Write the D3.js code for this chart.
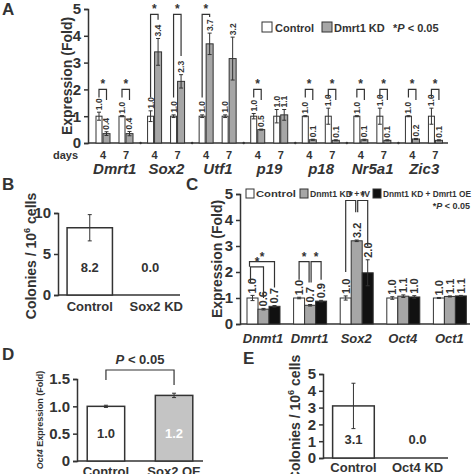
<!DOCTYPE html>
<html><head><meta charset="utf-8">
<script src="https://cdn.jsdelivr.net/npm/d3@7"></script>
<style>body{margin:0;background:#fff}text{font-family:"Liberation Sans",Arial,sans-serif;font-weight:bold;fill:#333}</style>
</head><body><div id="chart"></div>
<script>
// Panel A
const genesA = ["Dmrt1", "Sox2", "Utf1", "p19", "p18", "Nr5a1", "Zic3"];
const daysA = ["4", "7"];
const ctrlA = [1.0, 1.0, 1.0, 1.0, 1.0, 1.0, 1.0, 1.0, 1.0, 1.0, 1.0, 1.0, 1.0, 1.0];
const ctrlErrA = [0.15, 0.02, 0.2, 0.05, 0.05, 0.05, 0.1, 0.25, 0.02, 0.3, 0.02, 0.3, 0.02, 0.3];
const kdA = [0.35, 0.35, 3.4, 2.3, 3.7, 3.15, 0.5, 1.05, 0.12, 0.1, 0.12, 0.1, 0.15, 0.1];
const kdErrA = [0.07, 0.08, 0.5, 0.25, 0.4, 0.8, 0.02, 0.2, 0.02, 0.02, 0.02, 0.02, 0.02, 0.02];
const kdLabA = ["0.4", "0.4", "3.4", "2.3", "3.7", "3.2", "0.5", "1.1", "0.1", "0.1", "0.1", "0.1", "0.2", "0.1"];
const sigA = [2.0, 2.0, 4.8, 4.8, 4.8, null, 2.0, null, 2.0, 2.0, 2.0, 2.0, 2.0, 2.0];
// Panel B
const catsB = ["Control", "Sox2 KD"], valsB = [8.2, 0.0], errB = [1.6, 0];
// Panel C
const genesC = ["Dnmt1", "Dmrt1", "Sox2", "Oct4", "Oct1"];
const seriesC = ["Control", "Dnmt1 KD + IV", "Dnmt1 KD + Dmrt1 OE"];
const valsC = [[1.0, 0.57, 0.68], [1.0, 0.72, 0.88], [1.0, 3.2, 1.97], [1.0, 1.07, 1.04], [1.0, 1.06, 1.08]];
const errC = [[0.1, 0.03, 0.03], [0.03, 0.03, 0.03], [0.08, 0.03, 0.5], [0.05, 0.05, 0.05], [0.02, 0.02, 0.02]];
const labC = [["1.0", "0.6", "0.7"], ["1.0", "0.7", "0.9"], ["1.0", "3.2", "2.0"], ["1.0", "1.1", "1.0"], ["1.0", "1.1", "1.1"]];
// Panel D
const catsD = ["Control", "Sox2 OE"], valsD = [1.0, 1.2], errD = [0.02, 0.04];
// Panel E
const catsE = ["Control", "Oct4 KD"], valsE = [3.1, 0.0], errE = [1.35, 0];

const svg = d3.select("#chart").append("svg").attr("width", 474).attr("height", 474);
const ST = "#333";

function letter(t, x, y) { svg.append("text").attr("x", x).attr("y", y).attr("font-size", 17).text(t); }
function yAxis(y, x, ticks, fmt) {
  const g = svg.append("g").attr("transform", `translate(${x},0)`)
    .call(d3.axisLeft(y).tickValues(ticks).tickFormat(fmt).tickSize(4).tickPadding(3));
  g.selectAll("path,line").attr("stroke", ST).attr("stroke-width", 1.5);
  g.selectAll("text").attr("font-size", 15).attr("font-family", "Liberation Sans").attr("font-weight", "bold").attr("fill", "#333");
  return g;
}
function hline(x1, x2, y) { svg.append("line").attr("x1", x1).attr("x2", x2).attr("y1", y).attr("y2", y).attr("stroke", ST).attr("stroke-width", 1.5); }
function errBar(x, y, v, e, w) {
  if (!e) return;
  svg.append("line").attr("x1", x).attr("x2", x).attr("y1", y(v + e)).attr("y2", y(v - e)).attr("stroke", ST).attr("stroke-width", 1);
  [v + e, v - e].forEach(t => svg.append("line").attr("x1", x - w).attr("x2", x + w).attr("y1", y(t)).attr("y2", y(t)).attr("stroke", ST).attr("stroke-width", 1));
}
function bracket(x1, x2, yTop, y1, y2, star) {
  svg.append("path").attr("d", `M${x1},${y1}V${yTop}H${x2}V${y2}`).attr("fill", "none").attr("stroke", ST).attr("stroke-width", 1.2);
  if (star) svg.append("text").attr("x", (x1 + x2) / 2).attr("y", yTop - 1).attr("text-anchor", "middle").attr("font-size", 12).text("*");
}
function vlab(x, yy, t, fs) {
  svg.append("text").attr("transform", `translate(${x + fs * 0.35},${yy}) rotate(-90)`).attr("font-size", fs).attr("font-weight", "normal").text(t);
}

// ---------- Panel A ----------
letter("A", 2, 15);
const yA = d3.scaleLinear().domain([0, 5]).range([143, 9]);
const xA = d3.scaleBand().domain(genesA).range([89, 450]);
const xDay = d3.scalePoint().domain(daysA).range([14, 37]);
yAxis(yA, 88, [0, 1, 2, 3, 4, 5], d3.format("d"));
hline(88, 448, 143);
svg.append("text").attr("transform", "translate(72,76) rotate(-90)").attr("text-anchor", "middle").attr("font-size", 14).text("Expression (Fold)");
svg.append("text").attr("x", 78).attr("y", 159).attr("text-anchor", "end").attr("font-size", 11).text("days");
genesA.forEach((g, gi) => {
  svg.append("text").attr("x", xA(g) + xA.bandwidth() / 2).attr("y", 174).attr("text-anchor", "middle").attr("font-size", 15).attr("font-style", "italic").text(g);
  if (gi > 0) svg.append("circle").attr("cx", xA(g)).attr("cy", 143).attr("r", 1.2).attr("fill", ST);
  daysA.forEach((d, di) => {
    const i = gi * 2 + di, cx = xA(g) + xDay(d);
    svg.append("text").attr("x", cx).attr("y", 159).attr("text-anchor", "middle").attr("font-size", 11).text(d);
    svg.append("rect").attr("x", cx - 7).attr("width", 6).attr("y", yA(ctrlA[i])).attr("height", yA(0) - yA(ctrlA[i])).attr("fill", "#fff").attr("stroke", ST);
    svg.append("rect").attr("x", cx).attr("width", 7).attr("y", yA(kdA[i])).attr("height", yA(0) - yA(kdA[i])).attr("fill", "#a6a6a6").attr("stroke", ST);
    errBar(cx - 4, yA, ctrlA[i], ctrlErrA[i], 2);
    errBar(cx + 3.5, yA, kdA[i], kdErrA[i], 2);
    vlab(cx - 4, yA(ctrlA[i] + ctrlErrA[i]) - 2, "1.0", 8.5);
    vlab(cx + 3.5, yA(kdA[i] + kdErrA[i]) - 2, kdLabA[i], 8.5);
    if (sigA[i] != null) {
      const hi = Math.max(kdA[i] + kdErrA[i] + 0.7, 1.6);
      bracket(cx - 4, cx + 3.5, yA(sigA[i]), yA(1.7), yA(Math.min(hi, sigA[i] - 0.1)), true);
    }
  });
});
// legend A
svg.append("rect").attr("x", 262).attr("y", 22).attr("width", 10).attr("height", 10).attr("fill", "#fff").attr("stroke", ST);
svg.append("text").attr("x", 275).attr("y", 32).attr("font-size", 11).text("Control");
svg.append("rect").attr("x", 322).attr("y", 22).attr("width", 10).attr("height", 10).attr("fill", "#a6a6a6").attr("stroke", ST);
svg.append("text").attr("x", 334).attr("y", 32).attr("font-size", 11).text("Dmrt1 KD");
const pA = svg.append("text").attr("x", 393).attr("y", 32).attr("font-size", 11);
pA.append("tspan").text("*");
pA.append("tspan").attr("font-style", "italic").text("P");
pA.append("tspan").text(" < 0.05");

// ---------- Panel B ----------
letter("B", 2, 190);
const yB = d3.scaleLinear().domain([0, 10]).range([295, 213]);
const xB = d3.scaleBand().domain(catsB).range([58, 182]).paddingInner(0.25).paddingOuter(0.15);
yAxis(yB, 58, [0, 5, 10], d3.format("d"));
hline(58, 180, 295);
catsB.forEach((c, i) => {
  const x = xB(c);
  if (valsB[i] > 0) svg.append("rect").attr("x", x).attr("width", xB.bandwidth()).attr("y", yB(valsB[i])).attr("height", yB(0) - yB(valsB[i])).attr("fill", "#fff").attr("stroke", ST).attr("stroke-width", 1.5);
  errBar(x + xB.bandwidth() / 2, yB, valsB[i], errB[i], 2);
  svg.append("text").attr("x", x + xB.bandwidth() / 2).attr("y", 272).attr("text-anchor", "middle").attr("font-size", 13).text(valsB[i].toFixed(1));
  svg.append("text").attr("x", x + xB.bandwidth() / 2 + (i ? 6 : 0)).attr("y", 311).attr("text-anchor", "middle").attr("font-size", 13).text(c);
});
function colonyLabel(x, y, fs) {
  const t = svg.append("text").attr("transform", `translate(${x},${y}) rotate(-90)`).attr("text-anchor", "middle").attr("font-size", fs);
  t.append("tspan").text("Colonies / 10");
  t.append("tspan").attr("dy", -6).attr("font-size", fs * 0.65).text("6");
  t.append("tspan").attr("dy", 6).text(" cells");
}
colonyLabel(36, 256, 14);

// ---------- Panel C ----------
letter("C", 186, 190);
const yC = d3.scaleLinear().domain([0, 5]).range([324, 194]);
const xC = d3.scaleBand().domain(genesC).range([240, 473]);
const xS = d3.scaleBand().domain(seriesC).range([7, 40]);
const colC = ["#fff", "#a6a6a6", "#111"];
yAxis(yC, 240, [0, 1, 2, 3, 4, 5], d3.format("d"));
hline(240, 470, 324);
svg.append("text").attr("transform", "translate(222,259) rotate(-90)").attr("text-anchor", "middle").attr("font-size", 14).text("Expression (Fold)");
genesC.forEach((g, gi) => {
  svg.append("text").attr("x", xC(g) + 23).attr("y", 343).attr("text-anchor", "middle").attr("font-size", 13).attr("font-style", "italic").text(g);
  const cxs = seriesC.map(s => xC(g) + xS(s) + xS.bandwidth() / 2);
  seriesC.forEach((s, si) => {
    const v = valsC[gi][si], cx = cxs[si];
    svg.append("rect").attr("x", xC(g) + xS(s)).attr("width", xS.bandwidth()).attr("y", yC(v)).attr("height", yC(0) - yC(v)).attr("fill", colC[si]).attr("stroke", ST);
    errBar(cx, yC, v, errC[gi][si], 2);
    vlab(cx, yC(v + errC[gi][si]) - 2, labC[gi][si], 11);
  });
  if (gi === 0) { bracket(cxs[0] - 2, cxs[1], yC(2.2), yC(1.6), yC(1.0), true); bracket(cxs[0] - 3, cxs[2], yC(2.4), yC(2.2), yC(1.4), true); }
  if (gi === 1) { bracket(cxs[0], cxs[1] - 1, yC(2.4), yC(1.7), yC(1.6), true); bracket(cxs[1] + 1, cxs[2], yC(2.4), yC(1.6), yC(1.7), true); }
  if (gi === 2) { bracket(cxs[0], cxs[1] - 1, yC(4.75), yC(2.0), yC(4.3), true); bracket(cxs[1] + 1, cxs[2], yC(4.75), yC(4.3), yC(3.0), true); }
});
seriesC.forEach((s, i) => {
  const lx = [246, 300, 373][i];
  svg.append("rect").attr("x", lx).attr("y", 189).attr("width", 8).attr("height", 9).attr("fill", colC[i]).attr("stroke", ST);
  svg.append("text").attr("x", lx + 10).attr("y", 197).attr("font-size", 9)
    .attr("textLength", [40, 60, 88][i]).attr("lengthAdjust", "spacingAndGlyphs").text(s);
});
const pC = svg.append("text").attr("x", 470).attr("y", 209).attr("text-anchor", "end").attr("font-size", 9).attr("font-weight", "normal");
pC.append("tspan").text("*");
pC.append("tspan").attr("font-style", "italic").text("P");
pC.append("tspan").text(" < 0.05");

// ---------- Panel D ----------
letter("D", 2, 360);
const yD = d3.scaleLinear().domain([0, 1.5]).range([461, 379]);
const xD = d3.scaleBand().domain(catsD).range([77, 203]).paddingInner(0.45).paddingOuter(0.15);
yAxis(yD, 77, [0, 0.5, 1.0, 1.5], d => d === 0 ? "0" : d3.format(".1f")(d));
hline(77, 203, 461);
catsD.forEach((c, i) => {
  const x = xD(c), cx = x + xD.bandwidth() / 2;
  svg.append("rect").attr("x", x).attr("width", xD.bandwidth()).attr("y", yD(valsD[i])).attr("height", yD(0) - yD(valsD[i])).attr("fill", i ? "#c4c4c4" : "#fff").attr("stroke", ST).attr("stroke-width", 1.5);
  errBar(cx, yD, valsD[i], errD[i], 2);
  svg.append("text").attr("x", cx).attr("y", 438).attr("text-anchor", "middle").attr("font-size", 13).style("fill", i ? "#fff" : "#333").text(valsD[i].toFixed(1));
  svg.append("text").attr("x", cx).attr("y", 476).attr("text-anchor", "middle").attr("font-size", 13).text(c);
});
{
  const c0 = xD(catsD[0]) + xD.bandwidth() / 2, c1 = xD(catsD[1]) + xD.bandwidth() / 2;
  bracket(c0, c1, 370, 380, 385, false);
  const t = svg.append("text").attr("x", (c0 + c1) / 2).attr("y", 364).attr("text-anchor", "middle").attr("font-size", 13);
  t.append("tspan").attr("font-style", "italic").text("P");
  t.append("tspan").text(" < 0.05");
}
{
  const t = svg.append("text").attr("transform", "translate(43,420) rotate(-90)").attr("text-anchor", "middle").attr("font-size", 9).attr("font-weight", "normal");
  t.append("tspan").attr("font-style", "italic").text("Oct4");
  t.append("tspan").text(" Expression (Fold)");
}

// ---------- Panel E ----------
letter("E", 243, 364);
const yE = d3.scaleLinear().domain([0, 5]).range([458, 374]);
const xE = d3.scaleBand().domain(catsE).range([323, 448]).paddingInner(0.35).paddingOuter(0.15);
yAxis(yE, 323, [0, 1, 2, 3, 4, 5], d3.format("d"));
hline(323, 448, 458);
catsE.forEach((c, i) => {
  const x = xE(c), cx = x + xE.bandwidth() / 2;
  if (valsE[i] > 0) svg.append("rect").attr("x", x).attr("width", xE.bandwidth()).attr("y", yE(valsE[i])).attr("height", yE(0) - yE(valsE[i])).attr("fill", "#fff").attr("stroke", ST).attr("stroke-width", 1.5);
  errBar(cx, yE, valsE[i], errE[i], 2);
  svg.append("text").attr("x", cx).attr("y", 444).attr("text-anchor", "middle").attr("font-size", 13).text(valsE[i].toFixed(1));
  svg.append("text").attr("x", cx).attr("y", 472).attr("text-anchor", "middle").attr("font-size", 13).text(c);
});
colonyLabel(300, 418, 14);
</script></body></html>
